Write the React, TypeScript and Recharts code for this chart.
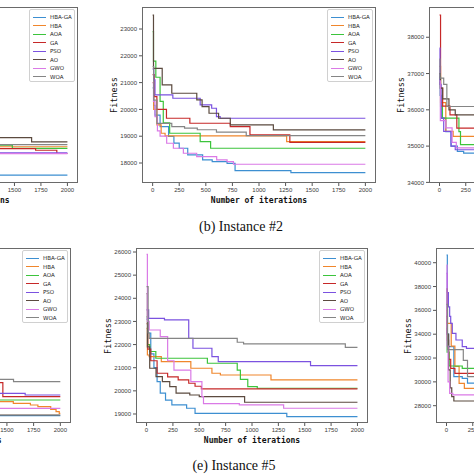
import React from "react";
import { LineChart, Line, XAxis, YAxis } from "recharts";

type Pt = [number, number];

const algorithms = ["HBA-GA", "HBA", "AOA", "GA", "PSO", "AO", "GWO", "WOA"];
const colors = ["#3d8fd1", "#f0862c", "#3cc43c", "#c62828", "#7b52e0", "#5b4a3f", "#da7ae6", "#858585"];
const iterTicks = [0, 250, 500, 750, 1000, 1250, 1500, 1750, 2000];

// Instance #1 (only the right end shows, its y axis is off the page)
const inst1Ticks: number[] = [];
const inst1Series: Pt[][] = [
  [[0, 20500], [20, 19400], [150, 18600], [400, 17900], [700, 17500], [1100, 17296], [2000, 17296]],
  [[0, 21800], [15, 20200], [200, 19100], [600, 18700], [1000, 18500], [1300, 18360], [2000, 18360]],
  [[0, 22600], [10, 20800], [300, 19300], [800, 18700], [1200, 18420], [1480, 18300], [2000, 18300]],
  [[0, 21900], [20, 20400], [300, 19200], [800, 18600], [1200, 18292], [1700, 18229], [1900, 18106], [2000, 18106]],
  [[0, 22200], [15, 20600], [300, 19000], [700, 18500], [1200, 18130], [2000, 18130]],
  [[0, 23000], [10, 21000], [400, 19600], [900, 18900], [1250, 18703], [1662, 18539], [2000, 18539]],
  [[0, 21200], [10, 19800], [200, 18800], [700, 18300], [1200, 18100], [2000, 18100]],
  [[0, 22300], [15, 20700], [400, 19300], [900, 18700], [1200, 18441], [2000, 18441]],
];

// Instance #2
const inst2Ticks = [18000, 19000, 20000, 21000, 22000, 23000];
const inst2Series: Pt[][] = [
  [[0, 20800], [10, 20150], [22, 19790], [70, 19360], [150, 18990], [200, 18740], [250, 18550], [330, 18300], [470, 18114], [560, 18050], [700, 17990], [775, 17715], [1300, 17640], [2000, 17640]],
  [[0, 21000], [10, 20000], [40, 19420], [80, 19110], [117, 19010], [1260, 18800], [2000, 18800]],
  [[0, 22900], [8, 21800], [30, 21200], [70, 20300], [100, 19500], [160, 19110], [447, 18798], [545, 18550], [2000, 18550]],
  [[0, 21300], [15, 20480], [40, 20000], [130, 19670], [350, 19483], [730, 19358], [915, 19047], [1290, 18770], [2000, 18770]],
  [[0, 21500], [10, 21100], [22, 20540], [190, 20416], [447, 20166], [555, 20043], [600, 19731], [635, 19670], [2000, 19670]],
  [[0, 23520], [8, 21530], [90, 20912], [180, 20602], [415, 20352], [465, 20103], [530, 19856], [620, 19670], [730, 19420], [1135, 19233], [2000, 19233]],
  [[0, 21000], [8, 20300], [22, 19731], [45, 19200], [70, 19000], [132, 18737], [195, 18550], [289, 18364], [414, 18237], [602, 18114], [700, 18050], [760, 17954], [2000, 17954]],
  [[0, 21600], [10, 20350], [40, 19480], [180, 19360], [300, 19300], [420, 19240], [600, 19150], [880, 19021], [2000, 19021]],
];

// Instance #3 (only the start shows)
const inst3Ticks = [34000, 35000, 36000, 37000, 38000];
const inst3Series: Pt[][] = [
  [[0, 37000], [6, 36400], [15, 35772], [60, 35400], [110, 35000], [170, 34853], [230, 34809], [700, 34750], [2000, 34700]],
  [[0, 37200], [10, 36200], [60, 35404], [130, 35266], [600, 35150], [2000, 35100]],
  [[0, 36900], [10, 36100], [28, 35772], [185, 35400], [200, 35038], [900, 34980], [2000, 34950]],
  [[0, 38614], [10, 36600], [30, 36100], [100, 35860], [165, 35497], [800, 35350], [2000, 35300]],
  [[0, 37700], [5, 36700], [15, 35772], [40, 35404], [110, 35000], [150, 34900], [2000, 34850]],
  [[0, 37000], [8, 36600], [30, 36300], [90, 36000], [150, 35863], [900, 35750], [2000, 35700]],
  [[0, 36800], [8, 35700], [60, 35500], [120, 35100], [160, 34950], [2000, 34900]],
  [[0, 37400], [5, 36872], [40, 36700], [70, 36091], [900, 35950], [2000, 35950]],
];

// Instance #4 (only the right end shows, its y axis is off the page)
const inst4Ticks: number[] = [];
const inst4Series: Pt[][] = [
  [[0, 22000], [300, 20000], [800, 19400], [1200, 19290], [2000, 19290]],
  [[0, 22800], [500, 20500], [1200, 19852], [1560, 19788], [1720, 19720], [1790, 19652], [1910, 19548], [1960, 19452], [1990, 19388], [2000, 19388]],
  [[0, 23000], [400, 20800], [1000, 20100], [1300, 19920], [2000, 19920]],
  [[0, 23500], [400, 21500], [1000, 20800], [1300, 20612], [1462, 20052], [2000, 20052]],
  [[0, 23800], [500, 21000], [1200, 20188], [1671, 20120], [2000, 20120]],
  [[0, 23000], [300, 20500], [900, 19500], [1300, 19320], [2000, 19320]],
  [[0, 22500], [400, 20200], [1000, 19700], [1300, 19588], [2000, 19588]],
  [[0, 24000], [300, 21500], [900, 20900], [1300, 20748], [1562, 20652], [2000, 20652]],
];

// Instance #5
const inst5Ticks = [19000, 20000, 21000, 22000, 23000, 24000, 25000, 26000];
const inst5Series: Pt[][] = [
  [[0, 23100], [15, 22500], [40, 21600], [70, 21000], [100, 20400], [130, 19900], [180, 19600], [240, 19391], [380, 19248], [460, 19030], [1330, 18885], [2000, 18885]],
  [[0, 22700], [8, 21550], [25, 21477], [140, 21261], [420, 20976], [620, 20760], [700, 20686], [1180, 20471], [2000, 20471]],
  [[0, 23200], [10, 22000], [30, 21700], [88, 21408], [577, 21192], [860, 20900], [890, 20500], [960, 20181], [1050, 20112], [2000, 20112]],
  [[0, 22900], [12, 21800], [40, 21300], [100, 20760], [200, 20600], [300, 20471], [400, 20328], [460, 20200], [520, 20083], [2000, 20083]],
  [[0, 23500], [20, 23136], [170, 23063], [400, 22273], [440, 21840], [620, 21477], [680, 21261], [1555, 21088], [2000, 21088]],
  [[0, 24200], [8, 21900], [30, 20976], [90, 20614], [150, 20400], [220, 20181], [280, 19900], [410, 19822], [500, 19750], [930, 19507], [2000, 19507]],
  [[0, 25900], [8, 23000], [25, 22630], [130, 22341], [200, 21300], [260, 20900], [420, 20400], [525, 19750], [540, 19450], [880, 19391], [1300, 19248], [2000, 19248]],
  [[0, 24500], [15, 22500], [25, 22272], [860, 22100], [920, 22026], [1885, 21880], [2000, 21880]],
];

// Instance #6 (only the start shows)
const inst6Ticks = [28000, 30000, 32000, 34000, 36000, 38000, 40000];
const inst6Series: Pt[][] = [
  [[0, 40647], [8, 34000], [20, 32950], [70, 30440], [150, 30300], [200, 29900], [800, 29750], [2000, 29700]],
  [[0, 36000], [8, 34910], [45, 33000], [80, 31300], [120, 29881], [170, 29462], [900, 29350], [2000, 29300]],
  [[0, 34500], [6, 32500], [25, 31333], [150, 31140], [900, 30950], [2000, 30900]],
  [[0, 35500], [8, 33500], [20, 31900], [40, 31140], [80, 30720], [900, 30650], [2000, 30600]],
  [[0, 39100], [8, 37500], [18, 36300], [30, 35500], [40, 34910], [55, 34071], [90, 33514], [150, 32952], [190, 32818], [1000, 32750], [2000, 32700]],
  [[0, 37800], [6, 34000], [20, 31000], [35, 29500], [50, 28762], [70, 28395], [1200, 28350], [2000, 28350]],
  [[0, 39800], [5, 33000], [15, 30000], [30, 29042], [60, 28911], [1000, 28850], [2000, 28800]],
  [[0, 36500], [10, 32700], [160, 31800], [200, 30440], [800, 30350], [2000, 30300]],
];

interface PanelDef {
  series: Pt[][];
  yTicks: number[];
  yDomain: [number, number];
  box: [number, number, number, number]; // frame in page px: left, top, right, bottom
  legend: boolean;
}

const panels: PanelDef[] = [
  { series: inst1Series, yTicks: inst1Ticks, yDomain: [17000, 23600], box: [-155, 7, 78, 183], legend: true },
  { series: inst2Series, yTicks: inst2Ticks, yDomain: [17254, 23821], box: [142, 7, 376, 183], legend: true },
  { series: inst3Series, yTicks: inst3Ticks, yDomain: [33983, 38834], box: [429, 7, 660, 183], legend: false },
  { series: inst4Series, yTicks: inst4Ticks, yDomain: [19000, 26000], box: [-164, 248, 71, 423], legend: true },
  { series: inst5Series, yTicks: inst5Ticks, yDomain: [18611, 26173], box: [136, 248, 368, 423], legend: true },
  { series: inst6Series, yTicks: inst6Ticks, yDomain: [26548, 41234], box: [436, 248, 667, 423], legend: false },
];

const PAGE = 474;
const X_DOMAIN: [number, number] = [-100, 2100];
const YW = 34;
const XH = 16;
const XLABEL_HALF = 48; // half width of "Number of iterations"
const tickFont = { fontSize: 6, fill: "#3a3a3a", fontFamily: "Liberation Sans" };
const mono = "'DejaVu Sans Mono', monospace";

const Legend = ({ right, top }: { right: number; top: number }) => (
  <div
    style={{
      position: "absolute",
      left: right - 46,
      top,
      width: 46,
      height: 73,
      boxSizing: "border-box",
      border: "1px solid #d0d0d0",
      borderRadius: 2,
      background: "rgba(255,255,255,0.9)",
      paddingTop: 3,
    }}
  >
    {algorithms.map((name, i) => (
      <div key={name} style={{ display: "flex", alignItems: "center", height: 8.5 }}>
        <div style={{ width: 13, height: 1.3, marginLeft: 3, background: colors[i] }} />
        <span style={{ marginLeft: 4, fontSize: 5.5, lineHeight: "6px", color: "#222", fontFamily: "DejaVu Sans" }}>
          {name}
        </span>
      </div>
    ))}
  </div>
);

const Panel = ({ def }: { def: PanelDef }) => {
  const [x0, y0, x1, y1] = def.box;
  const w = x1 - x0;
  const h = y1 - y0;
  // only keep iteration ticks whose label lands on the page
  const xTicks = iterTicks.filter((t) => {
    const px = x0 + ((t - X_DOMAIN[0]) / (X_DOMAIN[1] - X_DOMAIN[0])) * w;
    return px > -4 && px < PAGE + 4;
  });
  const hasY = def.yTicks.length > 0;
  const fitnessX = x0 - 28;
  const labelX = (x0 + x1) / 2;
  const showXLabel = labelX + XLABEL_HALF > 0 && labelX - XLABEL_HALF < PAGE;
  return (
    <>
      <div style={{ position: "absolute", left: x0 - YW, top: y0 }}>
        <LineChart width={w + YW} height={h + XH} margin={{ top: 0, right: 0, bottom: 0, left: 0 }}>
          <XAxis
            type="number"
            dataKey="x"
            domain={X_DOMAIN}
            ticks={xTicks}
            allowDataOverflow
            height={XH}
            axisLine={false}
            tickSize={3}
            tickMargin={2}
            tickLine={{ stroke: "#555" }}
            tick={tickFont}
            interval={0}
          />
          <YAxis
            type="number"
            dataKey="y"
            domain={def.yDomain}
            ticks={hasY ? def.yTicks : undefined}
            allowDataOverflow
            width={YW}
            axisLine={false}
            tickSize={3}
            tickMargin={2}
            tickLine={hasY ? { stroke: "#555" } : false}
            tick={hasY ? tickFont : false}
            interval={0}
          />
          {def.series.map((s, i) => (
            <Line
              key={algorithms[i]}
              data={s.map(([x, y]) => ({ x, y }))}
              dataKey="y"
              type="stepAfter"
              stroke={colors[i]}
              strokeWidth={1.2}
              dot={false}
              isAnimationActive={false}
            />
          ))}
        </LineChart>
      </div>
      <div
        style={{
          position: "absolute",
          left: x0,
          top: y0,
          width: w,
          height: h,
          border: "1px solid #6a6a6a",
          boxSizing: "border-box",
        }}
      />
      {def.legend && <Legend right={x1 - 3} top={y0 + 2} />}
      {showXLabel && (
        <div
          style={{
            position: "absolute",
            left: labelX,
            top: y1 + 17,
            transform: "translate(-50%, -50%)",
            fontFamily: mono,
            fontWeight: "bold",
            fontSize: 8,
            whiteSpace: "nowrap",
            color: "#111",
          }}
        >
          Number of iterations
        </div>
      )}
      {fitnessX > 0 && (
        <div
          style={{
            position: "absolute",
            left: fitnessX,
            top: (y0 + y1) / 2,
            transform: "translate(-50%, -50%) rotate(-90deg)",
            fontFamily: mono,
            fontSize: 8.5,
            whiteSpace: "nowrap",
            color: "#111",
          }}
        >
          Fitness
        </div>
      )}
    </>
  );
};

const captionStyle: React.CSSProperties = {
  position: "absolute",
  transform: "translateX(-50%)",
  fontFamily: "'Liberation Serif', serif",
  fontSize: 14,
  whiteSpace: "nowrap",
  color: "#111",
};

export default function App() {
  return (
    <div
      style={{
        position: "absolute",
        left: 0,
        top: 0,
        width: PAGE,
        height: PAGE,
        overflow: "hidden",
        background: "#fff",
      }}
    >
      {panels.map((p, i) => (
        <Panel key={i} def={p} />
      ))}
      <div style={{ ...captionStyle, left: 241, top: 219 }}>(b) Instance #2</div>
      <div style={{ ...captionStyle, left: 234, top: 458 }}>(e) Instance #5</div>
    </div>
  );
}
